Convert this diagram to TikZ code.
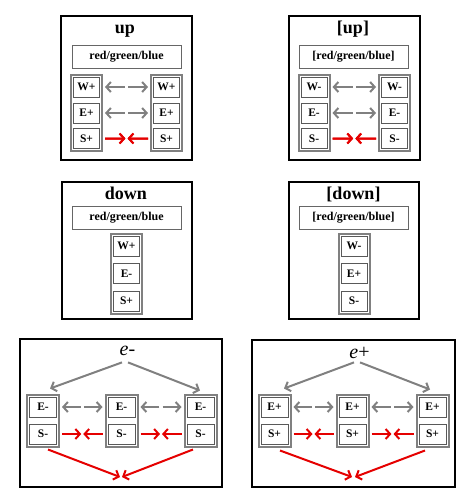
\documentclass[tikz,border=0pt]{standalone}
\usepackage{fontspec}
\setmainfont{Liberation Serif}
\usetikzlibrary{arrows.meta,calc,fit,positioning}

\begin{document}
\begin{tikzpicture}[x=1pt,y=-1pt,
  panel/.style={draw,line width=2pt},
  hdr/.style={font=\fontsize{18}{18}\selectfont\bfseries,anchor=base,inner sep=0pt},
  ehdr/.style={font=\fontsize{20}{20}\selectfont,anchor=base,inner sep=0pt},
  rgbbox/.style={draw=black!60,line width=1pt,minimum width=109pt,minimum height=23pt,
    inner sep=0pt,font=\fontsize{12}{12}\selectfont\bfseries},
  cell/.style={draw=black!65,line width=1pt,fill=white,minimum width=26pt,
    minimum height=20pt,inner sep=0pt,font=\fontsize{11.5}{12}\selectfont\bfseries},
  colframe/.style={draw=gray,line width=2pt,inner sep=2pt},
  garr/.style={draw=gray,line width=2pt,-{Straight Barb[length=4.5pt,width=10pt]}},
  rarr/.style={draw=red!90!black,line width=2pt,-{Straight Barb[length=4.5pt,width=10pt]}},
]
  \useasboundingbox (0,0) rectangle (474,501);

  % frames
  \draw[panel] (61,16) rectangle (192,160);
  \draw[panel] (289,16) rectangle (420,160);
  \draw[panel] (62,182) rectangle (192,319);
  \draw[panel] (289,182) rectangle (419,319);
  \draw[panel] (20,339) rectangle (222,487);
  \draw[panel] (252,340) rectangle (455,487);

  % titles
  \node[hdr] (tup) at (125,33) {up};
  \node[hdr] (tupb) at (353,33) {[up]};
  \node[hdr] (tdn) at (126,199) {down};
  \node[hdr] (tdnb) at (353.5,199) {[down]};
  \node[ehdr] (em) at (127.5,355) {\textit{e}-};
  \node[ehdr] (ep) at (359.5,358) {\textit{e}+};

  \node[rgbbox] (cup) at (126.5,56.5) {red/green/blue};
  \node[rgbbox] (cupb) at (353.5,56.5) {[red/green/blue]};
  \node[rgbbox] (cdn) at (126.5,217.5) {red/green/blue};
  \node[rgbbox] (cdnb) at (353.5,218) {[red/green/blue]};

  % up columns
  \foreach \n/\cx/\a/\b/\c in {ul/86.5/W+/E+/S+, ur/166.5/W+/E+/S+,
                               bl/314/W-/E-/S-, br/394.5/W-/E-/S-} {
    \node[cell] (\n1) at (\cx,87) {\a};
    \node[cell] (\n2) at (\cx,113) {\b};
    \node[cell] (\n3) at (\cx,138.5) {\c};
    \node[colframe,fit=(\n1)(\n3)] (\n) {};
  }

  % down columns
  \foreach \n/\cx/\a/\b/\c in {dl/126.5/W+/E-/S+, dr/354/W-/E+/S-} {
    \node[cell] (\n1) at (\cx,246) {\a};
    \node[cell] (\n2) at (\cx,273.5) {\b};
    \node[cell] (\n3) at (\cx,301) {\c};
    \node[colframe,fit=(\n1)(\n3)] (\n) {};
  }

  % e columns
  \foreach \n/\cx/\a/\b in {ea/43/E-/S-, eb/121.5/E-/S-, ec/200.5/E-/S-,
                            pa/274.5/E+/S+, pb/352.5/E+/S+, pc/432.5/E+/S+} {
    \node[cell,minimum width=27pt] (\n1) at (\cx,407) {\a};
    \node[cell,minimum width=27pt] (\n2) at (\cx,434) {\b};
    \node[colframe,fit=(\n1)(\n2)] (\n) {};
  }

  % arrows between columns
  \foreach \l/\r/\g/\s in {ul/ur/1/3, ul/ur/2/3, bl/br/1/3, bl/br/2/3,
                           ea/eb/1/2, eb/ec/1/2, pa/pb/1/2, pb/pc/1/2} {
    \draw[garr] ($(\l\g.east)!.47!(\r\g.west)$) -- ($(\l\g.east)+(5,0)$);
    \draw[garr] ($(\l\g.east)!.53!(\r\g.west)$) -- ($(\r\g.west)+(-5,0)$);
    \draw[rarr] ($(\l\s.east)+(5,0)$) -- ($(\l\s.east)!.48!(\r\s.west)$);
    \draw[rarr] ($(\r\s.west)+(-5,0)$) -- ($(\l\s.east)!.52!(\r\s.west)$);
  }

  % e- fan
  \coordinate (esink) at (121,477);
  \draw[garr] ($(em.south)+(-5.5,7)$) -- ($(ea.north)+(7,-5)$);
  \draw[garr] ($(em.south)+(0.5,7)$) -- ($(ec.north)+(-0.5,-3)$);
  \draw[rarr] ($(ea.south)+(5,2)$) -- ($(esink)+(-1,0)$);
  \draw[rarr] ($(ec.south)+(-7.5,2)$) -- ($(esink)+(1,0)$);

  % e+ fan
  \coordinate (psink) at (353.5,477);
  \draw[garr] ($(ep.south)+(-5.5,4)$) -- ($(pa.north)+(9.5,-5)$);
  \draw[garr] ($(ep.south)+(0.5,4)$) -- ($(pc.north)+(-2.5,-4)$);
  \draw[rarr] ($(pa.south)+(5.5,3)$) -- ($(psink)+(-1.5,0)$);
  \draw[rarr] ($(pc.south)+(-7.5,3)$) -- ($(psink)+(1.5,0)$);
\end{tikzpicture}
\end{document}
